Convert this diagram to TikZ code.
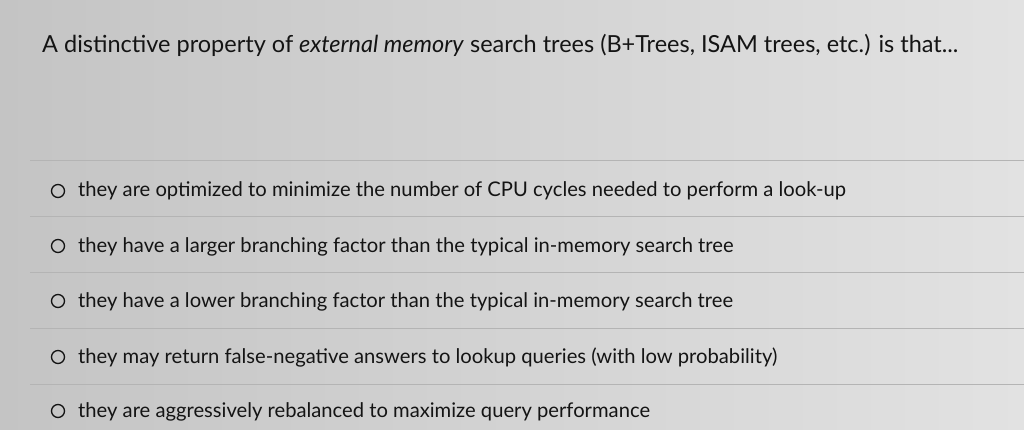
\documentclass[tikz,border=0pt]{standalone}
\usepackage{fontspec}
\setmainfont{Lato}
\definecolor{bgl}{RGB}{196,196,196}
\definecolor{bgr}{RGB}{226,226,226}
\definecolor{ink}{RGB}{20,20,20}
\definecolor{sep}{RGB}{180,180,180}
\begin{document}
\begin{tikzpicture}[x=1pt,y=-1pt,
  opt/.style={anchor=base west,text=ink,font=\fontsize{20.2}{22}\selectfont,inner sep=0},
  radio/.style={circle,draw=ink,line width=1.3pt,minimum size=13pt,inner sep=0},
  sepline/.style={draw=sep,line width=0.6pt}]
\useasboundingbox (0,0) rectangle (1024,430);
\shade[left color=bgl,right color=bgr] (0,0) rectangle (1024,430);
\node[anchor=base west,text=ink,font=\fontsize{23.5}{26}\selectfont,inner sep=0] (title) at (42,53)
  {A distinctive property of \textit{external memory} search trees (B+Trees, ISAM trees, etc.) is that...};
\foreach \y in {160,216,272,328,384}{\draw[sepline] (30,\y) -- (1024,\y);}
\node[radio] (r1) at (58,191) {};
\node[opt] (t1) at (78,197) {they are optimized to minimize the number of CPU cycles needed to perform a look-up};
\node[radio] (r2) at (58,246) {};
\node[opt] (t2) at (78,252) {they have a larger branching factor than the typical in-memory search tree};
\node[radio] (r3) at (58,301) {};
\node[opt] (t3) at (78,307) {they have a lower branching factor than the typical in-memory search tree};
\node[radio] (r4) at (58,357) {};
\node[opt] (t4) at (78,363) {they may return false-negative answers to lookup queries (with low probability)};
\node[radio] (r5) at (58,411) {};
\node[opt] (t5) at (78,417) {they are aggressively rebalanced to maximize query performance};
\end{tikzpicture}
\end{document}
